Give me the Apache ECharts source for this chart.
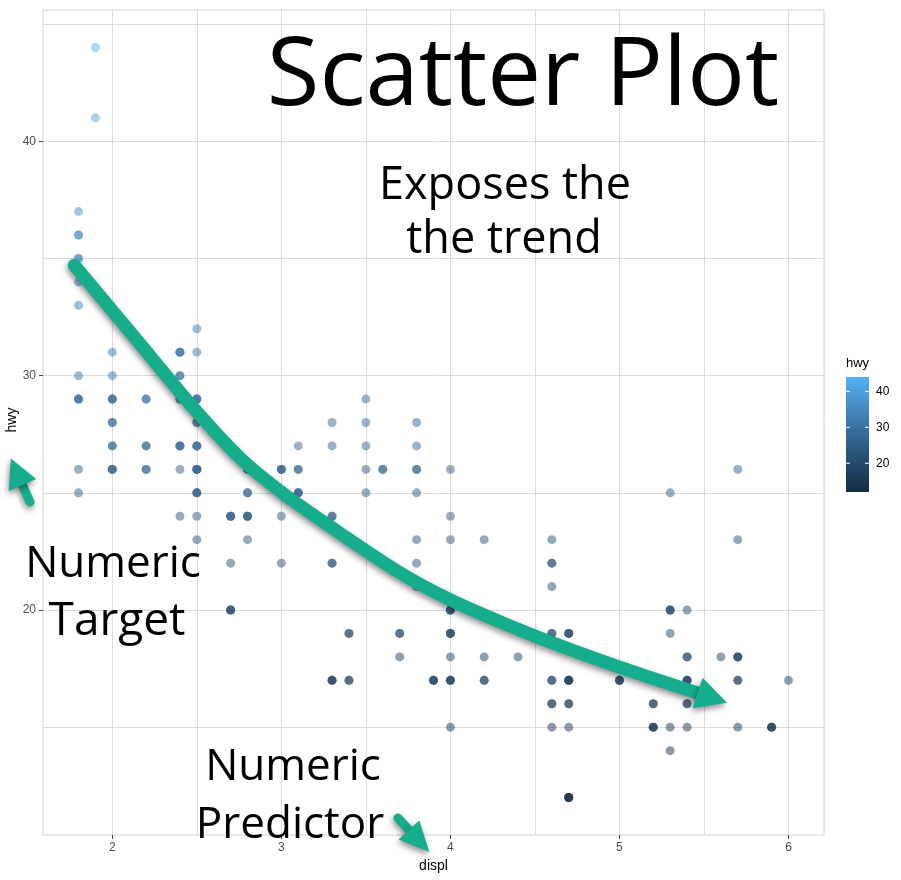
<!DOCTYPE html>
<html>
<head>
<meta charset="utf-8">
<script src="https://cdn.jsdelivr.net/npm/echarts@6/dist/echarts.min.js"></script>
<style>
html,body{margin:0;padding:0;background:#ffffff;}
#chart{width:901px;height:880px;}
</style>
</head>
<body>
<div id="chart"></div>
<script>
// ---- Data (unique displ/hwy pairs and how many cars share each) ----
const pointDispl = [
  1.8,1.8,1.8,1.8,1.8,1.8,1.8,1.8,1.8,
  1.9,1.9,
  2.0,2.0,2.0,2.0,2.0,2.0,
  2.2,2.2,2.2,
  2.4,2.4,2.4,2.4,2.4,2.4,
  2.5,2.5,2.5,2.5,2.5,2.5,2.5,2.5,2.5,
  2.7,2.7,2.7,
  2.8,2.8,2.8,2.8,
  3.0,3.0,3.0,3.0,
  3.1,3.1,3.1,
  3.3,3.3,3.3,3.3,3.3,
  3.4,3.4,
  3.5,3.5,3.5,3.5,3.5,
  3.6,
  3.7,3.7,
  3.8,3.8,3.8,3.8,3.8,3.8,3.8,
  3.9,
  4.0,4.0,4.0,4.0,4.0,4.0,4.0,4.0,
  4.2,4.2,4.2,
  4.4,
  4.6,4.6,4.6,4.6,4.6,4.6,4.6,
  4.7,4.7,4.7,4.7,4.7,
  5.0,
  5.2,5.2,5.2,
  5.3,5.3,5.3,5.3,5.3,
  5.4,5.4,5.4,5.4,5.4,
  5.6,
  5.7,5.7,5.7,5.7,5.7,
  5.9,
  6.0
];
const pointHwy = [
  37,36,35,34,33,30,29,26,25,
  44,41,
  31,30,29,28,27,26,
  29,27,26,
  31,30,29,27,26,24,
  32,31,29,28,27,26,25,24,23,
  24,22,20,
  26,25,24,23,
  26,25,24,22,
  27,26,25,
  28,27,24,22,17,
  19,17,
  29,28,27,26,25,
  26,
  19,18,
  28,27,26,25,23,22,21,
  17,
  26,24,23,20,19,18,17,15,
  23,18,17,
  18,
  23,22,21,19,17,16,15,
  19,17,16,15,12,
  17,
  17,16,15,
  25,20,19,15,14,
  20,18,17,16,15,
  18,
  26,23,18,17,15,
  15,
  17
];
const pointCount = [
  1,2,2,1,1,1,3,1,1,
  1,1,
  1,1,3,2,2,3,
  2,2,2,
  3,2,2,3,1,1,
  1,1,3,2,3,4,3,1,1,
  3,1,3,
  2,2,3,1,
  3,1,1,1,
  1,2,3,
  1,1,2,2,3,
  2,2,
  1,1,1,1,1,
  2,
  2,1,
  1,1,2,1,1,1,1,
  3,
  1,1,1,3,3,1,3,1,
  1,1,2,
  1,
  1,2,1,2,2,2,1,
  3,4,2,1,4,
  3,
  1,2,3,
  1,3,1,1,1,
  1,2,3,2,1,
  1,
  1,1,3,2,1,
  3,
  1
];
const xTicks = [2, 3, 4, 5, 6];
const yTicks = [20, 30, 40];
const legendTicks = [20, 30, 40];
const hwyRange = [12, 44];
const xExtent = [1.59, 6.21];
const yExtent = [10.4, 45.6];

// annotation path for the trend arrow, in data space (displ, hwy)
const trendPathX = [1.775, 2.136, 2.491, 2.757, 3.024, 3.320, 3.704, 4.000, 4.296, 4.651, 5.065, 5.462];
const trendPathY = [34.71, 31.60, 28.53, 26.48, 24.90, 23.41, 21.58, 20.43, 19.49, 18.47, 17.40, 16.46];

// ---- expand to raw points ----
const points = [];
for (let i = 0; i < pointDispl.length; i++) {
  for (let k = 0; k < pointCount[i]; k++) points.push([pointDispl[i], pointHwy[i]]);
}

const GREEN = '#15AD8C';
const LOW = '#132B43', HIGH = '#56B1F7';
const chart = echarts.init(document.getElementById('chart'), null, {renderer: 'canvas'});

const gridLine = {show: true, lineStyle: {color: '#dcdcdc', width: 1}};

chart.setOption({
  animation: false,
  backgroundColor: '#ffffff',
  grid: {left: 43, right: 77, top: 10, bottom: 45, show: true, borderColor: '#d2d2d2', borderWidth: 1,
         backgroundColor: '#ffffff', containLabel: false, outerBoundsMode: 'none'},
  xAxis: {
    type: 'value', min: xExtent[0], max: xExtent[1],
    name: 'displ', nameLocation: 'middle', nameGap: 23,
    nameTextStyle: {color: '#000', fontSize: 14, fontFamily: 'Liberation Sans'},
    axisLine: {show: false},
    axisTick: {show: true, length: 4, lineStyle: {color: '#444'}, customValues: xTicks},
    axisLabel: {color: '#4d4d4d', fontSize: 12, fontFamily: 'Liberation Sans', margin: 7, customValues: xTicks},
    splitLine: gridLine,
    minorTick: {show: false, splitNumber: 2},
    minorSplitLine: gridLine
  },
  yAxis: {
    type: 'value', min: yExtent[0], max: yExtent[1],
    axisLine: {show: false},
    axisTick: {show: true, length: 4, lineStyle: {color: '#444'}, customValues: yTicks},
    axisLabel: {color: '#4d4d4d', fontSize: 12, fontFamily: 'Liberation Sans', margin: 7, customValues: yTicks},
    splitLine: gridLine,
    minorTick: {show: false, splitNumber: 2},
    minorSplitLine: gridLine
  },
  visualMap: {
    show: false, type: 'continuous', min: hwyRange[0], max: hwyRange[1], dimension: 1,
    seriesIndex: 0, inRange: {color: [LOW, '#336A98', HIGH]}
  },
  series: [{
    type: 'scatter', data: points, symbol: 'circle', symbolSize: 9,
    itemStyle: {opacity: 0.5}, z: 2, silent: true
  }]
});

// ---- annotations & legend ----
function arrowEls(pts, width, headLen, headHalf, smooth) {
  const n = pts.length;
  const e = pts[n - 1], p = pts[n - 2];
  const dx = e[0] - p[0], dy = e[1] - p[1];
  const L = Math.hypot(dx, dy), ux = dx / L, uy = dy / L;
  const tip = [e[0] + ux * headLen, e[1] + uy * headLen];
  const c1 = [e[0] - uy * headHalf, e[1] + ux * headHalf];
  const c2 = [e[0] + uy * headHalf, e[1] - ux * headHalf];
  const shadow = {shadowColor: 'rgba(0,0,0,0.45)', shadowBlur: 6, shadowOffsetX: -1, shadowOffsetY: 3};
  return [
    {type: 'polyline', z: 50, silent: true, shape: {points: pts, smooth: smooth || 0},
     style: Object.assign({stroke: GREEN, lineWidth: width, lineCap: 'round', lineJoin: 'round', fill: null}, shadow)},
    {type: 'polygon', z: 51, silent: true, shape: {points: [c1, tip, c2]},
     style: Object.assign({fill: GREEN}, shadow)}
  ];
}

const trendPx = trendPathX.map((x, i) => chart.convertToPixel({gridIndex: 0}, [x, trendPathY[i]]));
const els = [];
els.push(...arrowEls(trendPx, 13, 31, 16, 0.3));
els.push(...arrowEls([[30, 502], [22.5, 485]], 9, 29, 15));
els.push(...arrowEls([[398, 818], [409, 830]], 9, 30, 14));

// y axis title
els.push({type: 'text', z: 60, silent: true, x: 12, y: 420, rotation: Math.PI / 2,
  style: {text: 'hwy', fontSize: 14, fontFamily: 'Liberation Sans', fill: '#000', align: 'center', verticalAlign: 'middle'}});

const hand = {fontFamily: 'Open Sans', fontWeight: 'normal', fill: '#000', align: 'center', verticalAlign: 'middle'};
function txt(text, x, y, size) {
  return {type: 'text', z: 60, silent: true, style: Object.assign({text: text, x: x, y: y, fontSize: size}, hand)};
}
els.push(txt('Scatter Plot', 523, 78, 96));
els.push(txt('Exposes the', 505, 186, 45));
els.push(txt('the trend', 504, 240, 45));
els.push(txt('Numeric', 113, 564, 44));
els.push(txt('Target', 117, 622, 46));
els.push(txt('Numeric', 293, 767, 44));
els.push(txt('Predictor', 290, 825, 44));

// colour bar legend
const barX = 846, barTop = 377, barW = 23, barH = 115;
els.push({type: 'text', z: 60, silent: true, style: {text: 'hwy', x: barX, y: barTop - 14, fontSize: 13, fontFamily: 'Liberation Sans', fill: '#000', align: 'left', verticalAlign: 'middle'}});
els.push({type: 'rect', z: 60, silent: true, shape: {x: barX, y: barTop, width: barW, height: barH},
  style: {fill: new echarts.graphic.LinearGradient(0, 0, 0, 1, [{offset: 0, color: HIGH}, {offset: 0.5, color: '#336A98'}, {offset: 1, color: LOW}])}});
legendTicks.forEach(v => {
  const y = barTop + (hwyRange[1] - v) / (hwyRange[1] - hwyRange[0]) * barH;
  els.push({type: 'line', z: 61, silent: true, shape: {x1: barX, y1: y, x2: barX + 4, y2: y}, style: {stroke: '#fff', lineWidth: 1}});
  els.push({type: 'line', z: 61, silent: true, shape: {x1: barX + barW - 4, y1: y, x2: barX + barW, y2: y}, style: {stroke: '#fff', lineWidth: 1}});
  els.push({type: 'text', z: 61, silent: true, style: {text: String(v), x: barX + barW + 7, y: y, fontSize: 12, fontFamily: 'Liberation Sans', fill: '#000', align: 'left', verticalAlign: 'middle'}});
});

chart.setOption({graphic: {elements: els}});
</script>
</body>
</html>
